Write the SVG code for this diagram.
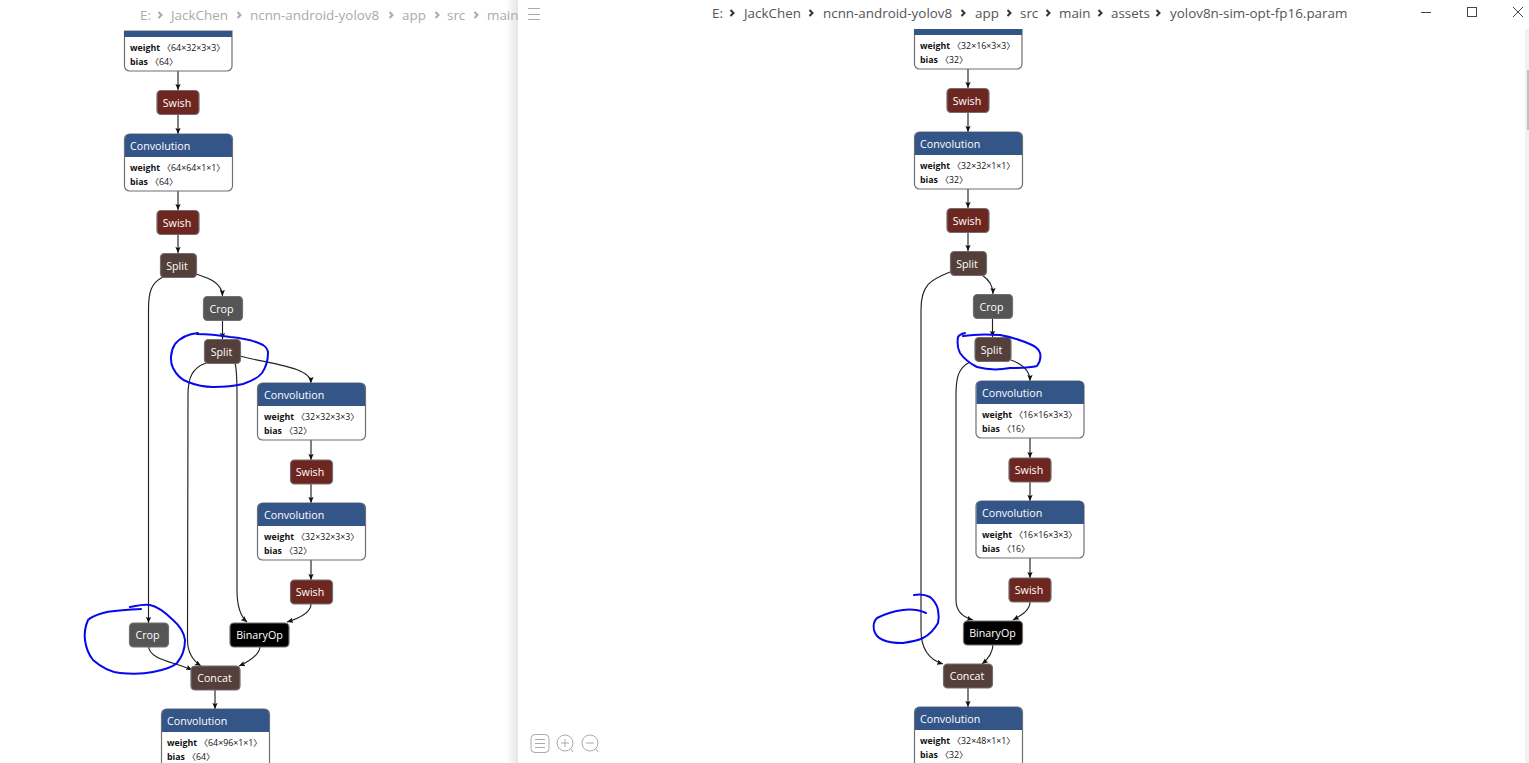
<svg xmlns="http://www.w3.org/2000/svg" width="1529" height="763" viewBox="0 0 1529 763">
<style>
text{font-family:"Open Sans","Noto Sans","Noto Sans CJK SC",sans-serif}
.n{stroke:#707070;stroke-width:1.2}
.sw{fill:#6e2720}.sp{fill:#543f3a}.cr{fill:#555}.bo{fill:#000}.hd{fill:#335588}.wh{fill:#fff}
.t{fill:#fff;font-size:10.700px;text-anchor:middle}
.h{fill:#fff;font-size:10.700px}
.d{fill:#111;font-size:8.800px}
.d tspan{font-weight:700}
.e{fill:none;stroke:#222;stroke-width:1.150;marker-end:url(#a)}
.b{fill:none;stroke:#0808ee;stroke-width:2;stroke-linecap:round;stroke-linejoin:round}
.c1{fill:#aaa;font-size:13.400px}.c2{fill:#555;font-size:13.400px}
.ch1{fill:none;stroke:#aaa;stroke-width:2}.ch2{fill:none;stroke:#333;stroke-width:2}
.ui{fill:none;stroke:#aaa;stroke-width:1}
.win{fill:none;stroke:#444;stroke-width:1}
</style>
<defs>
<marker id="a" markerUnits="userSpaceOnUse" markerWidth="7" markerHeight="6" refX="6" refY="3" orient="auto"><path d="M0,0.4L6,3L0,5.6L1,3Z" fill="#111"/></marker>
<linearGradient id="s" x1="0" x2="1" y1="0" y2="0"><stop offset="0" stop-color="#fff"/><stop offset="1" stop-color="#e6e6e6"/></linearGradient>
</defs>
<rect width="1529" height="763" fill="#fff"/>
<rect x="506" y="0" width="12" height="763" fill="url(#s)"/>

<g id="connectors">
<path class="e" d="M178,71V90"/><path class="e" d="M178,114V134"/><path class="e" d="M178,191V210"/><path class="e" d="M178,234V253"/>
<path class="e" d="M196,274C208,278 222,282 222.500,296"/>
<path class="e" d="M163,277C151,283 148.500,292 148.500,310V623"/>
<path class="e" d="M222.500,320V339"/>
<path class="e" d="M240,356C270,364 311,367 311,383"/>
<path class="e" d="M206,363C192,368 188,378 188,395L187.500,640C187.500,654 195,662 201,666"/>
<path class="e" d="M235,363C237,370 237,380 237,395V590C237,605 240,616 247,622"/>
<path class="e" d="M311,440V460"/><path class="e" d="M311,484V503"/><path class="e" d="M311,560V580"/>
<path class="e" d="M311,604C311,612 300,618 287,622"/>
<path class="e" d="M148.500,646C149,660 175,662 192,670"/>
<path class="e" d="M260,646C260,655 250,661 239,666"/>
<path class="e" d="M215,689V709"/>

<path class="e" d="M968,69V88"/><path class="e" d="M968,112V132"/><path class="e" d="M968,189V208"/><path class="e" d="M968,232V251"/>
<path class="e" d="M982,275C988,279 993,284 993,294"/>
<path class="e" d="M950,272C930,280 921,285 921,310V630C921,650 930,660 943,664"/>
<path class="e" d="M992.500,318V337"/>
<path class="e" d="M1011,360C1022,364 1030,370 1030,381"/>
<path class="e" d="M970,362C958,368 956,378 956,395V600C956,611 962,617 973,620"/>
<path class="e" d="M1030,438V458"/><path class="e" d="M1030,482V501"/><path class="e" d="M1030,558V578"/>
<path class="e" d="M1030,602C1030,610 1022,615 1013,620"/>
<path class="e" d="M993,644C993,653 988,659 982,664"/>
<path class="e" d="M968,687V707"/>
</g>

<g id="L-conv0"><path class="n wh" d="M124.500,31H232V66a5,5 0 0 1-5,5H129.500a5,5 0 0 1-5-5Z"/><rect class="hd" x="124" y="31" width="108" height="6"/><text class="d" x="130" y="51"><tspan>weight</tspan> 〈64×32×3×3〉</text><text class="d" x="130" y="65"><tspan>bias</tspan> 〈64〉</text></g>
<g id="L-swish1"><rect class="n sw" x="157" y="90.500" width="42" height="24" rx="4"/><text class="t" x="177" y="107">Swish</text></g>
<g id="L-conv1"><rect class="n wh" x="124.500" y="134" width="108" height="57" rx="5"/><path class="hd" d="M125,157V139a5,5 0 0 1 5-5H227a5,5 0 0 1 5,5V157Z"/><text class="h" x="130" y="150">Convolution</text><text class="d" x="130" y="171"><tspan>weight</tspan> 〈64×64×1×1〉</text><text class="d" x="130" y="185"><tspan>bias</tspan> 〈64〉</text></g>
<g id="L-swish2"><rect class="n sw" x="157" y="210.500" width="42" height="24" rx="4"/><text class="t" x="177" y="227">Swish</text></g>
<g id="L-split1"><rect class="n sp" x="160.500" y="253.500" width="36" height="24" rx="4"/><text class="t" x="177" y="270">Split</text></g>
<g id="L-crop1"><rect class="n cr" x="203.500" y="296.500" width="39" height="24" rx="4"/><text class="t" x="221.500" y="313">Crop</text></g>
<g id="L-split2"><rect class="n sp" x="204.500" y="339.500" width="36" height="24" rx="4"/><text class="t" x="221.500" y="356">Split</text></g>
<g id="L-conv2"><rect class="n wh" x="257.500" y="383" width="108" height="57" rx="5"/><path class="hd" d="M258,406V388a5,5 0 0 1 5-5H360a5,5 0 0 1 5,5V406Z"/><text class="h" x="264" y="399">Convolution</text><text class="d" x="264" y="420"><tspan>weight</tspan> 〈32×32×3×3〉</text><text class="d" x="264" y="434"><tspan>bias</tspan> 〈32〉</text></g>
<g id="L-swish3"><rect class="n sw" x="290.500" y="460" width="42" height="24" rx="4"/><text class="t" x="310" y="476">Swish</text></g>
<g id="L-conv3"><rect class="n wh" x="257.500" y="503" width="108" height="57" rx="5"/><path class="hd" d="M258,526V508a5,5 0 0 1 5-5H360a5,5 0 0 1 5,5V526Z"/><text class="h" x="264" y="519">Convolution</text><text class="d" x="264" y="540"><tspan>weight</tspan> 〈32×32×3×3〉</text><text class="d" x="264" y="554"><tspan>bias</tspan> 〈32〉</text></g>
<g id="L-swish4"><rect class="n sw" x="290.500" y="580" width="42" height="24" rx="4"/><text class="t" x="310" y="596">Swish</text></g>
<g id="L-crop2"><rect class="n cr" x="129.500" y="623" width="39" height="24" rx="4"/><text class="t" x="147.500" y="639">Crop</text></g>
<g id="L-binop"><rect class="n bo" x="230" y="623" width="59" height="24" rx="4"/><text class="t" x="259.500" y="639">BinaryOp</text></g>
<g id="L-concat"><rect class="n sp" x="191" y="666" width="49" height="24" rx="4"/><text class="t" x="214.500" y="682">Concat</text></g>
<g id="L-conv4"><rect class="n wh" x="161.500" y="709" width="108" height="60" rx="5"/><path class="hd" d="M162,732V714a5,5 0 0 1 5-5H264a5,5 0 0 1 5,5V732Z"/><text class="h" x="167" y="725">Convolution</text><text class="d" x="167" y="746"><tspan>weight</tspan> 〈64×96×1×1〉</text><text class="d" x="167" y="760"><tspan>bias</tspan> 〈64〉</text></g>

<g id="R-conv0"><path class="n wh" d="M914.500,29H1022V64a5,5 0 0 1-5,5H919.500a5,5 0 0 1-5-5Z"/><rect class="hd" x="914" y="29" width="108" height="6"/><text class="d" x="920" y="49"><tspan>weight</tspan> 〈32×16×3×3〉</text><text class="d" x="920" y="63"><tspan>bias</tspan> 〈32〉</text></g>
<g id="R-swish1"><rect class="n sw" x="947" y="88.500" width="42" height="24" rx="4"/><text class="t" x="967" y="105">Swish</text></g>
<g id="R-conv1"><rect class="n wh" x="914.500" y="132" width="108" height="57" rx="5"/><path class="hd" d="M915,155V137a5,5 0 0 1 5-5H1017a5,5 0 0 1 5,5V155Z"/><text class="h" x="920" y="148">Convolution</text><text class="d" x="920" y="169"><tspan>weight</tspan> 〈32×32×1×1〉</text><text class="d" x="920" y="183"><tspan>bias</tspan> 〈32〉</text></g>
<g id="R-swish2"><rect class="n sw" x="947" y="208.500" width="42" height="24" rx="4"/><text class="t" x="967" y="225">Swish</text></g>
<g id="R-split1"><rect class="n sp" x="950.500" y="251.500" width="36" height="24" rx="4"/><text class="t" x="967" y="268">Split</text></g>
<g id="R-crop1"><rect class="n cr" x="973.500" y="294.500" width="39" height="24" rx="4"/><text class="t" x="991.500" y="311">Crop</text></g>
<g id="R-split2"><rect class="n sp" x="975" y="337.500" width="36" height="24" rx="4"/><text class="t" x="991.500" y="354">Split</text></g>
<g id="R-conv2"><rect class="n wh" x="976" y="381" width="108" height="57" rx="5"/><path class="hd" d="M976.500,404V386a5,5 0 0 1 5-5H1079a5,5 0 0 1 5,5V404Z"/><text class="h" x="982" y="397">Convolution</text><text class="d" x="982" y="418"><tspan>weight</tspan> 〈16×16×3×3〉</text><text class="d" x="982" y="432"><tspan>bias</tspan> 〈16〉</text></g>
<g id="R-swish3"><rect class="n sw" x="1009" y="458" width="42" height="24" rx="4"/><text class="t" x="1029" y="474">Swish</text></g>
<g id="R-conv3"><rect class="n wh" x="976" y="501" width="108" height="57" rx="5"/><path class="hd" d="M976.500,524V506a5,5 0 0 1 5-5H1079a5,5 0 0 1 5,5V524Z"/><text class="h" x="982" y="517">Convolution</text><text class="d" x="982" y="538"><tspan>weight</tspan> 〈16×16×3×3〉</text><text class="d" x="982" y="552"><tspan>bias</tspan> 〈16〉</text></g>
<g id="R-swish4"><rect class="n sw" x="1009" y="578" width="42" height="24" rx="4"/><text class="t" x="1029" y="594">Swish</text></g>
<g id="R-binop"><rect class="n bo" x="963.500" y="621" width="59" height="24" rx="4"/><text class="t" x="992.500" y="637">BinaryOp</text></g>
<g id="R-concat"><rect class="n sp" x="943.500" y="664" width="49" height="24" rx="4"/><text class="t" x="967" y="680">Concat</text></g>
<g id="R-conv4"><rect class="n wh" x="914.500" y="707" width="108" height="60" rx="5"/><path class="hd" d="M915,730V712a5,5 0 0 1 5-5H1017a5,5 0 0 1 5,5V730Z"/><text class="h" x="920" y="723">Convolution</text><text class="d" x="920" y="744"><tspan>weight</tspan> 〈32×48×1×1〉</text><text class="d" x="920" y="758"><tspan>bias</tspan> 〈32〉</text></g>

<g id="annotations">
<path class="b" d="M198,333C188,334 180,338 175,344C170,352 170,362 173,368C177,376 182,380 188,382C198,386 206,387 213,387C225,387 235,386 243,384C252,381 258,378 262,373C266,367 268,360 268,353C268,349 266,347 263,345C253,340 242,338 230,337C218,335 208,334 197,334"/>
<path class="b" d="M141,609C128,610 115,610 103,613C96,615 91,617 88,620C85,627 84,633 85,640C86,648 89,655 93,660C101,667 110,672 120,673C132,674 143,674 153,672C163,670 172,668 177,663C182,657 185,649 185,640C184,632 180,626 173,620C166,613 159,607 150,605C143,604 136,606 130,607"/>
<path class="b" d="M965,333C961,334 959,335 958,337C957,343 958,349 960,353C965,360 971,364 977,367C988,370 999,370 1010,368C1019,368 1030,368 1037,366C1040,362 1041,357 1040,353C1039,350 1036,347 1032,345C1023,341 1012,337 1000,335C987,334 975,334 963,336"/>
<path class="b" d="M914,595C920,594 926,595 930,597C935,601 937,605 938,610C939,615 939,619 938,623C934,630 929,635 923,638C917,641 910,642 903,643C896,643 889,643 883,640C878,638 875,634 874,630C873,625 874,621 877,618C885,614 894,611 903,610C911,609 919,610 926,613"/>
</g>

<g id="toolbar-left">
<text class="c1" x="140" y="20">E:</text>
<path class="ch1" d="M158.500,12L161.500,15L158.500,18"/>
<text class="c1" x="171" y="20">JackChen</text>
<path class="ch1" d="M237.500,12L240.500,15L237.500,18"/>
<text class="c1" x="250" y="20">ncnn-android-yolov8</text>
<path class="ch1" d="M389.500,12L392.500,15L389.500,18"/>
<text class="c1" x="402" y="20">app</text>
<path class="ch1" d="M435.500,12L438.500,15L435.500,18"/>
<text class="c1" x="447" y="20">src</text>
<path class="ch1" d="M474.500,12L477.500,15L474.500,18"/>
<text class="c1" x="487" y="20">main</text>
</g>
<rect x="518" y="0" width="1011" height="29" fill="#fff"/>
<g id="toolbar-right">
<text class="c2" x="712" y="18">E:</text>
<path class="ch2" d="M730.500,10L733.500,13L730.500,16"/>
<text class="c2" x="744" y="18">JackChen</text>
<path class="ch2" d="M809.500,10L812.500,13L809.500,16"/>
<text class="c2" x="823" y="18">ncnn-android-yolov8</text>
<path class="ch2" d="M961.500,10L964.500,13L961.500,16"/>
<text class="c2" x="975" y="18">app</text>
<path class="ch2" d="M1007.500,10L1010.500,13L1007.500,16"/>
<text class="c2" x="1020" y="18">src</text>
<path class="ch2" d="M1046.500,10L1049.500,13L1046.500,16"/>
<text class="c2" x="1059" y="18">main</text>
<path class="ch2" d="M1098.500,10L1101.500,13L1098.500,16"/>
<text class="c2" x="1111" y="18">assets</text>
<path class="ch2" d="M1156.500,10L1159.500,13L1156.500,16"/>
<text class="c2" x="1170" y="18">yolov8n-sim-opt-fp16.param</text>
</g>
<g id="menu"><path class="ui" d="M528,8.500H540M528,14.500H540M528,19.500H540"/></g>
<g id="window-controls">
<path class="win" d="M1421,12.500H1431"/>
<rect class="win" x="1467.500" y="7.500" width="9" height="9"/>
<path class="win" d="M1513,7L1523,17M1523,7L1513,17"/>
</g>
<g id="scrollbar"><rect x="1525" y="29" width="4" height="734" fill="#f2f2f2"/><rect x="1527" y="70" width="2" height="60" fill="#c0c0c0"/></g>
<g id="zoom-controls">
<rect class="ui" x="531" y="734.500" width="18" height="18" rx="4"/>
<path class="ui" d="M535,739.500H545M535,743.500H545M535,747.500H545"/>
<circle class="ui" cx="565" cy="743" r="8"/><path class="ui" d="M561,743H569M565,739V747M571,749L573,752"/>
<circle class="ui" cx="590" cy="743" r="8"/><path class="ui" d="M586,743H594M596,749L598,752"/>
</g>
</svg>
